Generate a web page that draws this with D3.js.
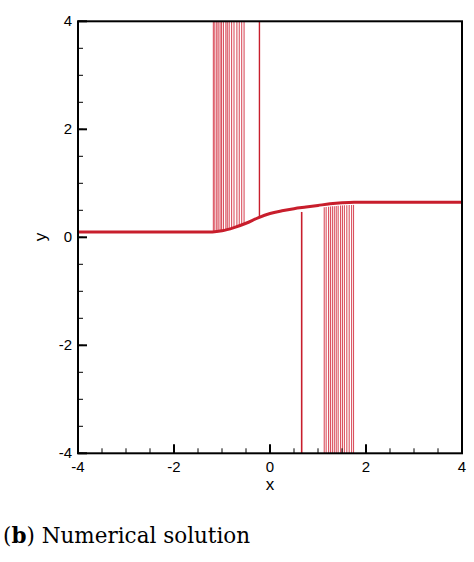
<!DOCTYPE html>
<html><head><meta charset="utf-8">
<script src="https://cdn.jsdelivr.net/npm/d3@7"></script>
<style>html,body{margin:0;padding:0;background:#fff;}svg{display:block;}</style>
</head><body>
<script>
// ---- data ----
const curveX = [-4, -1.2, -1.0, -0.75, -0.5, -0.25, 0, 0.25, 0.5, 0.75, 1.0, 1.25, 1.5, 1.75, 4];
const curveY = [0.1, 0.1, 0.12, 0.18, 0.26, 0.36, 0.44, 0.49, 0.53, 0.56, 0.59, 0.62, 0.64, 0.65, 0.65];
const upperLinesX = [-1.18, -1.15, -1.11, -1.08, -1.04, -1.01, -0.97, -0.92, -0.89, -0.85, -0.80, -0.75, -0.69, -0.64, -0.59, -0.54];
const upperSingleX = [-0.22];
const lowerLinesX = [1.13, 1.17, 1.22, 1.26, 1.30, 1.34, 1.38, 1.42, 1.47, 1.51, 1.55, 1.60, 1.65, 1.70, 1.74];
const lowerSingleX = [0.66];
const xTicks = [-4, -2, 0, 2, 4];
const yTicks = [-4, -2, 0, 2, 4];
const minorTicks = d3.range(-4, 4.01, 0.5);
const xLabel = "x", yLabel = "y";
const captionBold = "b", captionText = " Numerical solution";

// ---- layout ----
const W = 474, H = 562;
const svg = d3.select("body").append("svg").attr("width", W).attr("height", H);
const x = d3.scaleLinear().domain([-4, 4]).range([78, 462]);
const y = d3.scaleLinear().domain([-4, 4]).range([453.3, 21.3]);
const curvePts = curveX.map((v, i) => [v, curveY[i]]);
const curveAt = v => {
  for (let i = 1; i < curveX.length; i++) if (v <= curveX[i]) {
    const t = (v - curveX[i-1]) / (curveX[i] - curveX[i-1]);
    return curveY[i-1] + t * (curveY[i] - curveY[i-1]);
  }
  return curveY[curveY.length - 1];
};

const plot = svg.append("g");
const red = "#c81e2c";
// upper vertical lines
plot.selectAll(".up").data(upperLinesX).join("line")
  .attr("x1", d => x(d)).attr("x2", d => x(d))
  .attr("y1", y(4)).attr("y2", d => y(curveAt(d)))
  .attr("stroke", "#d43444").attr("stroke-opacity", 0.85).attr("stroke-width", 1.1);
plot.selectAll(".ups").data(upperSingleX).join("line")
  .attr("x1", d => x(d)).attr("x2", d => x(d))
  .attr("y1", y(4)).attr("y2", d => y(curveAt(d)))
  .attr("stroke", red).attr("stroke-width", 1.4);
// lower vertical lines
plot.selectAll(".lo").data(lowerLinesX).join("line")
  .attr("x1", d => x(d)).attr("x2", d => x(d))
  .attr("y1", d => y(curveAt(d) - 0.05)).attr("y2", y(-4))
  .attr("stroke", "#d43444").attr("stroke-opacity", 0.85).attr("stroke-width", 1.1);
plot.selectAll(".los").data(lowerSingleX).join("line")
  .attr("x1", d => x(d)).attr("x2", d => x(d))
  .attr("y1", d => y(curveAt(d) - 0.08)).attr("y2", y(-4))
  .attr("stroke", red).attr("stroke-width", 1.6);
// curve
plot.append("path").datum(curvePts)
  .attr("d", d3.line().x(d => x(d[0])).y(d => y(d[1])).curve(d3.curveMonotoneX))
  .attr("fill", "none").attr("stroke", red).attr("stroke-width", 3);

// frame
svg.append("rect").attr("x", x(-4)).attr("y", y(4))
  .attr("width", x(4) - x(-4)).attr("height", y(-4) - y(4))
  .attr("fill", "none").attr("stroke", "#000").attr("stroke-width", 2);

// axis ticks (inward, left and bottom only)
const ax = svg.append("g");
ax.selectAll(".xmin").data(minorTicks).join("line")
  .attr("x1", d => x(d)).attr("x2", d => x(d)).attr("y1", y(-4)).attr("y2", y(-4) - 5)
  .attr("stroke", "#000").attr("stroke-width", 1);
ax.selectAll(".xmaj").data(xTicks).join("line")
  .attr("x1", d => x(d)).attr("x2", d => x(d)).attr("y1", y(-4)).attr("y2", y(-4) - 9)
  .attr("stroke", "#000").attr("stroke-width", 2);
ax.selectAll(".ymin").data(minorTicks).join("line")
  .attr("y1", d => y(d)).attr("y2", d => y(d)).attr("x1", x(-4)).attr("x2", x(-4) + 5)
  .attr("stroke", "#000").attr("stroke-width", 1);
ax.selectAll(".ymaj").data(yTicks).join("line")
  .attr("y1", d => y(d)).attr("y2", d => y(d)).attr("x1", x(-4)).attr("x2", x(-4) + 9)
  .attr("stroke", "#000").attr("stroke-width", 2);

const font = "'Liberation Sans', Arial, sans-serif";
ax.selectAll(".xl").data(xTicks).join("text")
  .attr("x", d => x(d)).attr("y", 472).attr("text-anchor", "middle")
  .attr("font-family", font).attr("font-size", 15).text(d => d);
ax.selectAll(".yl").data(yTicks).join("text")
  .attr("x", 72).attr("y", d => y(d) + 5).attr("text-anchor", "end")
  .attr("font-family", font).attr("font-size", 15).text(d => d);
svg.append("text").attr("x", 270).attr("y", 490).attr("text-anchor", "middle")
  .attr("font-family", font).attr("font-size", 17).text(xLabel);
svg.append("text").attr("transform", "translate(46,237) rotate(-90)").attr("text-anchor", "middle")
  .attr("font-family", font).attr("font-size", 17).text(yLabel);

// caption
const cap = svg.append("text").attr("x", 3).attr("y", 543)
  .attr("font-family", "'DejaVu Serif', 'Liberation Serif', serif").attr("font-size", 21.5);
cap.append("tspan").text("(");
cap.append("tspan").attr("font-weight", "bold").text(captionBold);
cap.append("tspan").text(")" + captionText);
</script>
</body></html>
